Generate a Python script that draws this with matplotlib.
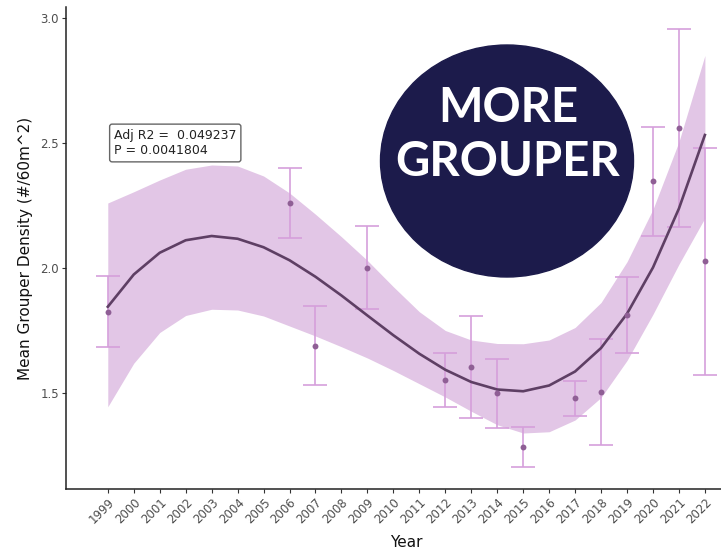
import numpy as np
import matplotlib
matplotlib.use("Agg")
import matplotlib.pyplot as plt
from matplotlib.patches import Ellipse

# observed yearly means with error bars
obs_years = [1999, 2006, 2007, 2009, 2012, 2013, 2014, 2015, 2017, 2018, 2019, 2020, 2021, 2022]
obs_mean = [1.825, 2.261, 1.689, 2.000, 1.552, 1.605, 1.501, 1.285, 1.479, 1.505, 1.812, 2.348, 2.561, 2.029]
obs_upper = [1.970, 2.401, 1.848, 2.168, 1.659, 1.809, 1.637, 1.365, 1.549, 1.715, 1.963, 2.565, 2.956, 2.481]
obs_lower = [1.684, 2.121, 1.532, 1.835, 1.445, 1.399, 1.361, 1.205, 1.408, 1.293, 1.659, 2.128, 2.165, 1.572]

# fitted curve and confidence band, read per year
fit_years = list(range(1999, 2023))
fit_mid = [1.845, 1.974, 2.061, 2.111, 2.128, 2.117, 2.083, 2.031, 1.965, 1.890,
           1.810, 1.731, 1.657, 1.593, 1.544, 1.514, 1.507, 1.530, 1.586, 1.680,
           1.817, 2.002, 2.238, 2.532]
fit_hi = [2.260, 2.305, 2.352, 2.395, 2.412, 2.408, 2.368, 2.300, 2.215, 2.125,
          2.030, 1.925, 1.825, 1.750, 1.712, 1.698, 1.697, 1.712, 1.762, 1.862,
          2.025, 2.235, 2.505, 2.850]
fit_lo = [1.445, 1.619, 1.742, 1.810, 1.835, 1.832, 1.808, 1.768, 1.728, 1.685,
          1.640, 1.590, 1.537, 1.484, 1.427, 1.373, 1.340, 1.345, 1.392, 1.482,
          1.630, 1.815, 2.015, 2.200]

y_ticks = [1.5, 2.0, 2.5, 3.0]

fig = plt.figure(figsize=(7.21, 5.57), dpi=100)
ax = fig.add_axes([66 / 721, 68 / 557, 655 / 721, 482 / 557])

ax.fill_between(fit_years, fit_lo, fit_hi, color="#e2c6e6", lw=0, zorder=1)
ax.plot(fit_years, fit_mid, color="#5e3f64", lw=1.9, zorder=3)

yerr = [np.array(obs_mean) - np.array(obs_lower), np.array(obs_upper) - np.array(obs_mean)]
ax.errorbar(obs_years, obs_mean, yerr=yerr, fmt="none", ecolor="#d59fdb",
            elinewidth=1.2, capsize=8.5, capthick=1.2, zorder=2)
ax.scatter(obs_years, obs_mean, s=18, color="#8f5f95", zorder=4, lw=0)

ax.set_xlim(1997.39, 2022.62)
ax.set_ylim(1.116, 3.044)
ax.set_xticks(fit_years)
ax.set_xticklabels([str(y) for y in fit_years], rotation=45, ha="right",
                   rotation_mode="anchor", fontsize=8.5, color="#4d4d4d")
ax.set_yticks(y_ticks)
ax.set_yticklabels([f"{v:.1f}" for v in y_ticks], fontsize=8.5, color="#4d4d4d")
ax.tick_params(length=3, width=0.8, color="#333333", pad=2)

for s in ["top", "right"]:
    ax.spines[s].set_visible(False)
for s in ["left", "bottom"]:
    ax.spines[s].set_linewidth(1.1)
    ax.spines[s].set_color("#222222")

ax.set_xlabel("Year", fontsize=11, color="#111111")
ax.xaxis.set_label_coords(0.52, -0.095)
ax.set_ylabel("Mean Grouper Density (#/60m^2)", fontsize=11, color="#111111")
ax.yaxis.set_label_coords(-0.051, 0.5)

fig.text(114 / 721, 1 - 143 / 557, "Adj R2 =  0.049237\nP = 0.0041804", fontsize=9,
         va="center", ha="left", color="#222222", linespacing=1.3,
         bbox=dict(boxstyle="round,pad=0.35,rounding_size=0.2", fc="white", ec="#666666", lw=1))

blob = Ellipse((507 / 721, 1 - 161 / 557), 253 / 721, 232 / 557, transform=fig.transFigure,
               color="#1c1b4b", zorder=5)
fig.patches.append(blob)
fig.text(508 / 721, 1 - 108 / 557, "MORE", fontsize=34, fontweight="bold", family="Lato",
         color="white", ha="center", va="center", zorder=6)
fig.text(508 / 721, 1 - 162 / 557, "GROUPER", fontsize=34, fontweight="bold", family="Lato",
         color="white", ha="center", va="center", zorder=6)

fig.savefig("out.png", dpi=100)
